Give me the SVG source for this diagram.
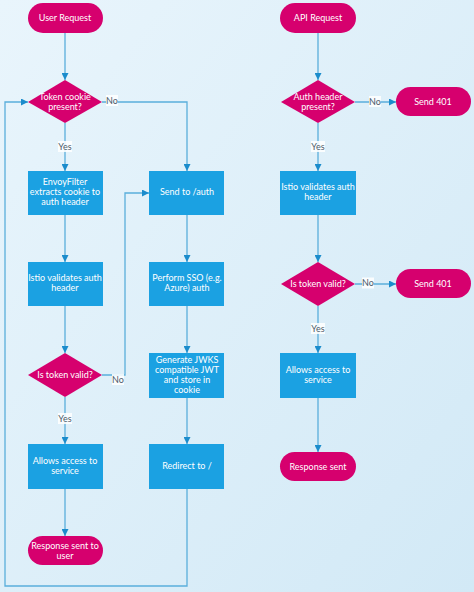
<svg xmlns="http://www.w3.org/2000/svg" width="474" height="592" viewBox="0 0 474 592">
<defs>
<linearGradient id="bg" x1="0" y1="0" x2="1" y2="1">
<stop offset="0" stop-color="#e9f5fc"/>
<stop offset="1" stop-color="#d2e9f6"/>
</linearGradient>
<marker id="arr" viewBox="0 0 8 8" refX="8" refY="4" markerWidth="7" markerHeight="7" markerUnits="userSpaceOnUse" orient="auto">
<path d="M0,0 L8,4 L0,8 z" fill="#1b8ccc"/>
</marker>
</defs>
<style>
.term{fill:#d6006e}
.box{fill:#1ba1e2}
.dia{fill:#d6006e}
.t{font-family:Lato,"Open Sans",sans-serif;font-size:9px;fill:#ffffff;text-anchor:middle}
.c{fill:none;stroke:#5aaedb;stroke-width:1.3}
.lb{fill:#ffffff;opacity:0.85}
.lt{font-family:Lato,"Open Sans",sans-serif;font-size:9px;fill:#4d5b6a;text-anchor:middle}
</style>
<rect width="474" height="592" fill="url(#bg)"/>

<g id="connectors">
<path class="c" d="M65,33 V80" marker-end="url(#arr)"/>
<path class="c" d="M65,123 V171" marker-end="url(#arr)"/>
<path class="c" d="M102,102 H187 V171" marker-end="url(#arr)"/>
<path class="c" d="M65,215 V262" marker-end="url(#arr)"/>
<path class="c" d="M65,306 V353" marker-end="url(#arr)"/>
<path class="c" d="M65,397 V444" marker-end="url(#arr)"/>
<path class="c" d="M102,375 H125 V193 H149" marker-end="url(#arr)"/>
<path class="c" d="M65,489 V536" marker-end="url(#arr)"/>
<path class="c" d="M187,215 V262" marker-end="url(#arr)"/>
<path class="c" d="M187,306 V353" marker-end="url(#arr)"/>
<path class="c" d="M187,398 V444" marker-end="url(#arr)"/>
<path class="c" d="M187,489 V586 H5 V102 H28" marker-end="url(#arr)"/>
<path class="c" d="M318,33 V80" marker-end="url(#arr)"/>
<path class="c" d="M355,102 H396" marker-end="url(#arr)"/>
<path class="c" d="M318,123 V171" marker-end="url(#arr)"/>
<path class="c" d="M318,215 V262" marker-end="url(#arr)"/>
<path class="c" d="M355,284 H396" marker-end="url(#arr)"/>
<path class="c" d="M318,306 V353" marker-end="url(#arr)"/>
<path class="c" d="M318,398 V452" marker-end="url(#arr)"/>
<rect class="lb" x="58" y="141" width="14" height="11"/>
<text class="lt" x="65" y="149.5">Yes</text>
<rect class="lb" x="106" y="95" width="12" height="11"/>
<text class="lt" x="112" y="103.5">No</text>
<rect class="lb" x="58" y="413" width="14" height="11"/>
<text class="lt" x="65" y="421.5">Yes</text>
<rect class="lb" x="112" y="374" width="12" height="11"/>
<text class="lt" x="118" y="382.5">No</text>
<rect class="lb" x="311" y="141" width="14" height="11"/>
<text class="lt" x="318" y="149.5">Yes</text>
<rect class="lb" x="369" y="96" width="12" height="11"/>
<text class="lt" x="375" y="104.5">No</text>
<rect class="lb" x="311" y="323" width="14" height="11"/>
<text class="lt" x="318" y="331.5">Yes</text>
<rect class="lb" x="362" y="277.5" width="12" height="11"/>
<text class="lt" x="368" y="286">No</text>
</g>

<g id="user-request">
<rect class="term" x="28" y="3" width="75" height="30" rx="15"/>
<text class="t" x="65" y="21">User Request</text>
</g>
<g id="token-cookie">
<polygon class="dia" points="65,80 102,102 65,123 28,102"/>
<text class="t" x="65" y="99.5">Token cookie</text>
<text class="t" x="65" y="109.5">present?</text>
</g>
<g id="envoyfilter">
<rect class="box" x="28" y="171" width="75" height="44"/>
<text class="t" x="65" y="185">EnvoyFilter</text>
<text class="t" x="65" y="195">extracts cookie to</text>
<text class="t" x="65" y="205">auth header</text>
</g>
<g id="istio-left">
<rect class="box" x="28" y="262" width="75" height="44"/>
<text class="t" x="65" y="281">Istio validates auth</text>
<text class="t" x="65" y="291">header</text>
</g>
<g id="token-valid-left">
<polygon class="dia" points="65,353 102,375 65,397 28,375"/>
<text class="t" x="65" y="378">Is token valid?</text>
</g>
<g id="allows-left">
<rect class="box" x="28" y="444" width="75" height="45"/>
<text class="t" x="65" y="464">Allows access to</text>
<text class="t" x="65" y="474">service</text>
</g>
<g id="response-user">
<rect class="term" x="28" y="536" width="75" height="29" rx="14.5"/>
<text class="t" x="65" y="549">Response sent to</text>
<text class="t" x="65" y="559">user</text>
</g>
<g id="send-auth">
<rect class="box" x="149" y="171" width="75" height="44"/>
<text class="t" x="187" y="195">Send to /auth</text>
</g>
<g id="perform-sso">
<rect class="box" x="149" y="262" width="75" height="44"/>
<text class="t" x="187" y="281">Perform SSO (e.g.</text>
<text class="t" x="187" y="291">Azure) auth</text>
</g>
<g id="generate-jwks">
<rect class="box" x="149" y="353" width="75" height="45"/>
<text class="t" x="187" y="363">Generate JWKS</text>
<text class="t" x="187" y="373">compatible JWT</text>
<text class="t" x="187" y="383">and store in</text>
<text class="t" x="187" y="393">cookie</text>
</g>
<g id="redirect">
<rect class="box" x="149" y="444" width="75" height="45"/>
<text class="t" x="187" y="469">Redirect to /</text>
</g>
<g id="api-request">
<rect class="term" x="280" y="3" width="76" height="30" rx="15"/>
<text class="t" x="318" y="21">API Request</text>
</g>
<g id="auth-header">
<polygon class="dia" points="318,80 355,102 318,123 281,102"/>
<text class="t" x="318" y="99.5">Auth header</text>
<text class="t" x="318" y="109.5">present?</text>
</g>
<g id="send401-a">
<rect class="term" x="396" y="87" width="75" height="29" rx="14.5"/>
<text class="t" x="433" y="104.5">Send 401</text>
</g>
<g id="istio-right">
<rect class="box" x="280" y="171" width="76" height="44"/>
<text class="t" x="318" y="190">Istio validates auth</text>
<text class="t" x="318" y="200">header</text>
</g>
<g id="token-valid-right">
<polygon class="dia" points="318,262 355,284 318,306 281,284"/>
<text class="t" x="318" y="287">Is token valid?</text>
</g>
<g id="send401-b">
<rect class="term" x="396" y="269" width="75" height="29" rx="14.5"/>
<text class="t" x="433" y="286.5">Send 401</text>
</g>
<g id="allows-right">
<rect class="box" x="280" y="353" width="76" height="45"/>
<text class="t" x="318" y="373">Allows access to</text>
<text class="t" x="318" y="383">service</text>
</g>
<g id="response-sent">
<rect class="term" x="280" y="452" width="76" height="29" rx="14.5"/>
<text class="t" x="318" y="469.5">Response sent</text>
</g>
</svg>
